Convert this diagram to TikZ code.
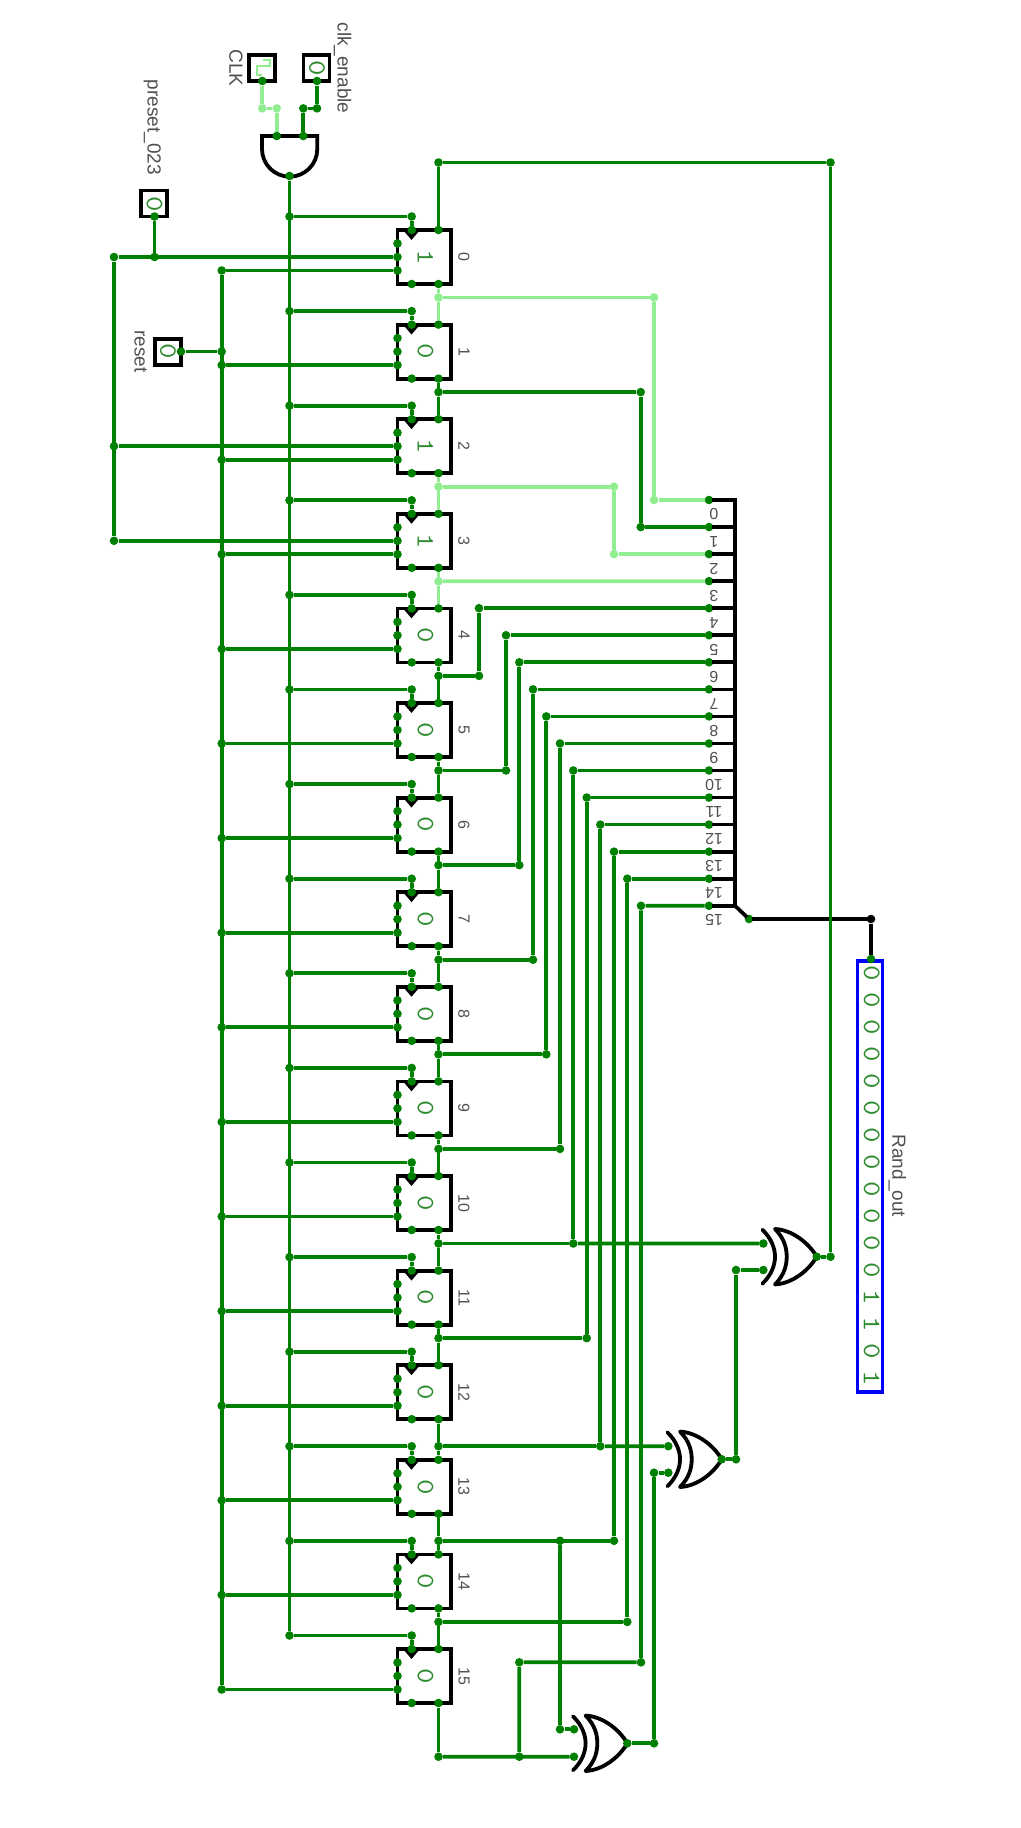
\documentclass[tikz,border=0pt]{standalone}
\usepackage{fontspec}
\setmainfont{Liberation Sans}
\newfontfamily\valfont[FakeStretch=1.2]{Latin Modern Mono}
\definecolor{wirelow}{HTML}{008000}
\definecolor{wirehigh}{HTML}{90EE90}
\definecolor{valgreen}{HTML}{2E8B2E}
\definecolor{tagtext}{HTML}{505050}
\tikzset{
  dotlow/.style={circle, fill=wirelow, inner sep=0pt, minimum size=8.6pt},
  dothigh/.style={circle, fill=wirehigh, inner sep=0pt, minimum size=8.6pt},
  dotblack/.style={circle, fill=black, inner sep=0pt, minimum size=8.6pt},
  wirelow/.style={draw=wirelow, line width=3.7pt},
  wirehigh/.style={draw=wirehigh, line width=3.7pt},
  buswire/.style={draw=black, line width=3.7pt, line cap=rect},
  outline/.style={draw=black, line width=3.8pt, line join=miter},
  regbox/.style={outline, rectangle, inner sep=0pt, outer sep=0pt, minimum width=53.5pt, minimum height=54pt},
  pinbox/.style={outline, rectangle, inner sep=0pt, outer sep=0pt, minimum size=26pt},
  outbox/.style={draw=blue, line width=3.8pt, rectangle, inner sep=0pt, outer sep=0pt, minimum width=25pt, minimum height=431pt},
  val/.style={text=valgreen, rotate=-90, inner sep=0pt, font=\valfont\fontsize{25}{25}\selectfont},
  pinname/.style={text=tagtext, rotate=-90, inner sep=0pt, font=\fontsize{19}{19}\selectfont},
  regtag/.style={text=tagtext, rotate=-90, inner sep=0pt, font=\fontsize{16}{16}\selectfont},
  bittag/.style={text=tagtext, rotate=180, inner sep=0pt, font=\fontsize{16}{16}\selectfont},
  xorgate/.pic={
    \draw[outline, line cap=round] (-54.3,-27) .. controls (-45,-18) and (-41.7,-8) .. (-41.7,0) .. controls (-41.7,8) and (-45,18) .. (-54.3,27);
    \draw[outline, line join=round] (-41.7,-27.7) .. controls (-25,-27) and (-8,-14) .. (0,0) .. controls (-8,14) and (-25,27) .. (-41.7,27.7) .. controls (-32,18) and (-30,8) .. (-30,0) .. controls (-30,-8) and (-32,-18) .. (-41.7,-27.7) -- cycle;
  }
}

\begin{document}
\begin{tikzpicture}[x=1pt, y=-1pt]
  \useasboundingbox (0,0) rectangle (1020,1828);

  \node[pinbox] (clk_pin) at (262.2,68) {};
  \node[pinbox] (enable_pin) at (316.5,68) {};
  \node[pinbox] (preset_pin) at (154.2,203.5) {};
  \node[pinbox] (reset_pin) at (167.8,352) {};
  \node[pinname] (clk_name) at (236,68) {CLK};
  \node[pinname] (enable_name) at (342.7,68) {clk\_enable};
  \node[pinname] (preset_name) at (152.3,127.5) {preset\_023};
  \node[pinname] (reset_name) at (140.7,351.7) {reset};
  \node[val] (enable_val) at (317,68) {0};
  \node[val] (preset_val) at (154.5,204) {0};
  \node[val] (reset_val) at (168,351.5) {0};
  \draw[wirehigh, line width=2.3pt] (263.3,59.7) -- (270,59.7) -- (270,66.3) -- (256.7,66.3) -- (256.7,74.7) -- (262.3,74.7);

  \draw[outline] (317.3,149) -- (317.3,136) -- (262,136) -- (262,149) arc[start angle=180, end angle=360, radius=27.65pt];
  \pic (xor1) at (816.7,1256.7) {xorgate};
  \pic (xor2) at (721.7,1459.3) {xorgate};
  \pic (xor3) at (627.3,1743.3) {xorgate};

  \node[dotlow] (clk_port) at (262.3,81) {};
  \node[dothigh] (clk_b) at (262.3,108.4) {};
  \node[dothigh] (clk_c) at (276.7,108.4) {};
  \node[dotlow] (and_a) at (276.7,136) {};
  \node[dotlow] (enable_port) at (317,81) {};
  \node[dotlow] (enable_b) at (317,108.4) {};
  \node[dotlow] (enable_c) at (303.3,108.4) {};
  \node[dotlow] (and_b) at (303.3,136) {};
  \node[dotlow] (and_out) at (289.5,176) {};
  \node[dotlow] (preset_port) at (154.5,216.5) {};
  \node[dotlow] (preset_tap) at (154.5,257) {};
  \node[dotlow] (reset_port) at (181,351.5) {};
  \node[dotlow] (reset_tap) at (221.7,351.5) {};
  \draw[wirehigh] (clk_port) -- (clk_b) -- (clk_c) -- (and_a);
  \draw[wirelow] (enable_port) -- (enable_b) -- (enable_c) -- (and_b);
  \draw[wirelow] (preset_port) -- (preset_tap);
  \draw[wirelow] (reset_port) -- (reset_tap);

  \foreach \i/\v/\c/\j [evaluate=\i as \rt using 230+94.6*\i] in {
    15/0/low/107.7, 14/0/low/67.5, 13/0/low/81, 12/0/low/81, 11/0/low/67.5, 10/0/low/67.5,
    9/0/low/67.5, 8/0/low/67.5, 7/0/low/67.5, 6/0/low/67.5, 5/0/low/67.5, 4/0/low/67.5,
    3/1/high/67.5, 2/1/high/67.5, 1/0/low/67.5, 0/1/high/67.5} {
    \node[regbox] (reg\i) at (424.3,{\rt+27}) {};
    \node[val] (val\i) at (425.5,{\rt+27}) {\v};
    \node[regtag] (tag\i) at (464,{\rt+27}) {\i};
    \draw[outline] (405.5,\rt) -- (411.5,{\rt+7}) -- (417.5,\rt);
    \node[dotlow] (ckb\i) at (289.5,{\rt-13.5}) {};
    \node[dotlow] (ckc\i) at (411.7,{\rt-13.5}) {};
    \node[dotlow] (ckd\i) at (411.7,\rt) {};
    \node[dotlow] (d\i) at (438.5,\rt) {};
    \node[dotlow] (la\i) at (397.5,{\rt+13.5}) {};
    \node[dotlow] (lb\i) at (397.5,{\rt+27}) {};
    \node[dotlow] (lc\i) at (397.5,{\rt+40.5}) {};
    \node[dotlow] (nq\i) at (411.7,{\rt+54}) {};
    \node[dotlow] (q\i) at (438.5,{\rt+54}) {};
    \node[dot\c] (qj\i) at (438.5,{\rt+\j}) {};
    \node[dotlow] (rs\i) at (221.7,{\rt+40.5}) {};
    \draw[wirelow] (ckb\i) -- (ckc\i) -- (ckd\i);
    \draw[wirelow] (rs\i) -- (lc\i);
    \draw[wire\c] (q\i) -- (qj\i);
    \pgfmathtruncatemacro\k{\i+1}
    \ifnum\i<15 \draw[wire\c] (qj\i) -- (d\k); \fi
  }
  \draw[wirelow] (and_out) -- (ckb15);
  \draw[wirelow] (rs0) -- (rs15);

  \foreach \i in {0,2,3} {
    \node[dotlow] (pn\i) at (114,{257+94.6*\i}) {};
    \draw[wirelow] (pn\i) -- (lb\i);
  }
  \draw[wirelow] (pn0) -- (pn3);

  \foreach \i in {0,...,15} {
    \node[dotlow] (bus\i) at (709,{500+27.05*\i}) {};
    \coordinate (spine\i) at (735,{500+27.05*\i});
    \node[bittag] (bit\i) at (714,{514.5+27.05*\i}) {\i};
    \draw[buswire] (bus\i) -- (spine\i);
  }
  \node[dotlow] (bus_out) at (749,919) {};
  \node[dotblack] (out_c) at (871,919) {};
  \node[outbox] (rand_box) at (870,1176.3) {};
  \node[dotlow] (rand_port) at (871,959) {};
  \node[pinname] (rand_name) at (897.3,1175.8) {Rand\_out};
  \foreach \n/\v in {0/0,1/0,2/0,3/0,4/0,5/0,6/0,7/0,8/0,9/0,10/0,11/0,12/1,13/1,14/0,15/1} {
    \node[val] (rand\n) at (871.7,{973+27*\n}) {\v};
  }
  \draw[buswire] (spine0) -- (spine15) -- (bus_out);
  \draw[buswire] (bus_out) -- (out_c);
  \draw[draw=black, line width=3.7pt] (out_c) -- (rand_port);

  \foreach \i/\xx/\c in {0/654/high, 1/640.7/low, 2/614/high, 4/479/low, 5/506/low, 6/519.3/low, 7/533/low,
    8/546.3/low, 9/560/low, 10/573.3/low, 11/586.7/low, 12/600.3/low, 13/614/low, 14/627.3/low} {
    \node[dot\c] (bc\i) at (\xx,{500+27.05*\i}) {};
    \node[dot\c] (bd\i) at (qj\i -| bc\i) {};
    \draw[wire\c] (qj\i) -- (bd\i) -- (bc\i) -- (bus\i);
  }
  \draw[wirehigh] (qj3) -- (bus3);

  \node[dotlow] (fb_a) at (438.5,162.5) {};
  \node[dotlow] (fb_b) at (830.5,162.5) {};
  \node[dotlow] (xor1_out) at (816.7,1256.7) {};
  \node[dotlow] (fb_c) at (830.5,1256.7) {};
  \draw[wirelow] (d0) -- (fb_a) -- (fb_b) -- (fb_c) -- (xor1_out);

  \node[dotlow] (xor1_a) at (763.3,1243.5) {};
  \node[dotlow] (xor1_b) at (763.3,1270) {};
  \node[dotlow] (xor1_c) at (736,1270) {};
  \node[dotlow] (xor2_d) at (736,1459.3) {};
  \node[dotlow] (xor2_out) at (721.7,1459.3) {};
  \draw[wirelow] (bd10) -- (xor1_a);
  \draw[wirelow] (xor1_b) -- (xor1_c) -- (xor2_d) -- (xor2_out);

  \node[dotlow] (xor2_a) at (668.3,1446.2) {};
  \node[dotlow] (xor2_b) at (668.3,1472.7) {};
  \node[dotlow] (xor2_c) at (654,1472.7) {};
  \node[dotlow] (xor3_d) at (654,1743.3) {};
  \node[dotlow] (xor3_out) at (627.3,1743.3) {};
  \draw[wirelow] (bd12) -- (xor2_a);
  \draw[wirelow] (xor2_b) -- (xor2_c) -- (xor3_d) -- (xor3_out);

  \node[dotlow] (tap13) at (bd13 -| 560,0) {};
  \node[dotlow] (xor3_c) at (560,1729.3) {};
  \node[dotlow] (xor3_a) at (574,1729.3) {};
  \node[dotlow] (xor3_b) at (574,1756.7) {};
  \draw[wirelow] (tap13) -- (xor3_c) -- (xor3_a);
  \draw[wirelow] (qj15) -- (xor3_b);

  \node[dotlow] (bc15) at (641,905.75) {};
  \node[dotlow] (bd15) at (641,1662.3) {};
  \node[dotlow] (be15) at (519.3,1662.3) {};
  \node[dotlow] (bf15) at (qj15 -| be15) {};
  \draw[wirelow] (bus15) -- (bc15) -- (bd15) -- (be15) -- (bf15);

\end{tikzpicture}
\end{document}
